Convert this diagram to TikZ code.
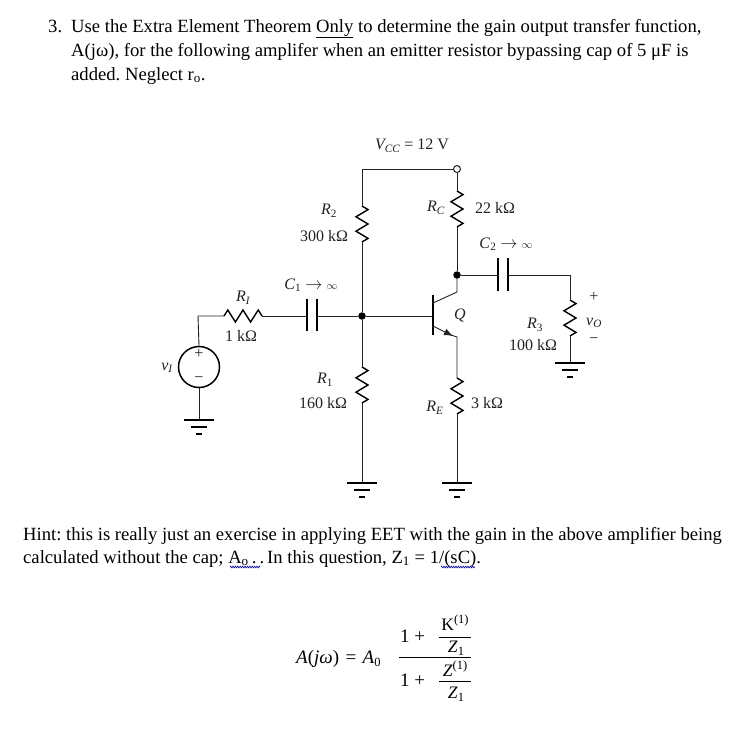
\documentclass[tikz,border=0pt]{standalone}
\usepackage{fontspec}
\setmainfont{Liberation Serif}
\frenchspacing
\usetikzlibrary{decorations.pathmorphing,arrows.meta}
\definecolor{ink}{HTML}{222222}
\newcommand{\eqsup}[1]{\raisebox{0.36em}{\fontsize{12.5}{13}\selectfont #1}}
\newcommand{\eqsub}[1]{\raisebox{-0.18em}{\fontsize{12.5}{13}\selectfont #1}}
\tikzset{
  wire/.style={line width=0.9pt,draw=ink},
  zig/.style={line width=1.4pt,draw=black,line join=miter},
  plate/.style={line width=2.4pt,draw=black},
  dot/.style={circle,fill=black,inner sep=0pt,minimum size=7.5pt},
  para/.style={anchor=base west,inner sep=0pt,font=\fontsize{18.65}{20}\selectfont},
  lab/.style={inner sep=0pt,text=ink,font=\fontsize{16}{18}\selectfont},
  eqn/.style={inner sep=0pt,font=\fontsize{19}{21}\selectfont},
  eqs/.style={inner sep=0pt,anchor=base,font=\fontsize{17.5}{19}\selectfont},
  squig/.style={draw=blue!60!black,line width=0.6pt,decorate,decoration={zigzag,segment length=2.4pt,amplitude=0.9pt}},
  gnd/.pic={
    \draw[line width=2pt] (-15,0) -- (15,0);
    \draw[line width=2pt] (-8,7) -- (8,7);
    \draw[line width=2pt] (-3,14) -- (3,14);
    \coordinate (-top) at (0,0);
  },
  vres/.pic={
    \draw[zig] (0,0) -- ++(6,3.6) -- ++(-12,7.2) -- ++(12,7.2) -- ++(-12,7.2) -- ++(12,7.2) -- ++(-6,3.6);
    \coordinate (-top) at (0,0);
    \coordinate (-bot) at (0,36);
  },
  hres/.pic={
    \draw[zig] (0,0) -- ++(3.8,-6) -- ++(7.6,12) -- ++(7.6,-12) -- ++(7.6,12) -- ++(7.6,-12) -- ++(3.8,6);
    \coordinate (-left) at (0,0);
    \coordinate (-right) at (38,0);
  }
}
\begin{document}
\begin{tikzpicture}[x=1pt,y=-1pt]
\useasboundingbox (0,0) rectangle (752,729);
\fill[white] (0,0) rectangle (752,729);

% problem statement
\node[para] (num) at (48,32) {3.};
\node[para] (l1) at (71,32) {Use the Extra Element Theorem \underline{Only} to determine the gain output transfer function,};
\node[para] (l2) at (71,56) {A(jω), for the following amplifer when an emitter resistor bypassing cap of 5 μF is};
\node[para] (l3) at (71,80) {added. Neglect r\textsubscript{o}.};

% circuit junctions and terminals
\node[dot] (nb) at (362,316) {};
\node[dot] (nc) at (457,275) {};
\node[circle,draw=ink,line width=1pt,fill=white,inner sep=0pt,minimum size=7pt] (vcc) at (457,169) {};
\node[circle,draw=black,line width=1.5pt,inner sep=0pt,minimum size=41pt] (src) at (199,367) {};
\coordinate (ctl) at (362,169);
\coordinate (sl) at (198,316);
\coordinate (c1a) at (307,316);
\coordinate (c1b) at (317,316);
\coordinate (c2a) at (498,275);
\coordinate (c2b) at (508,275);
\coordinate (otr) at (570,275);
\coordinate (base) at (433,316);
\coordinate (ctop) at (433,303);
\coordinate (cknee) at (457,292);
\coordinate (etop) at (433,326);
\coordinate (eknee) at (457,337);

% components
\path (224,316) pic (ri) {hres};
\path (362,206) pic (r2) {vres};
\path (362,367) pic (r1) {vres};
\path (457,191) pic (rc) {vres};
\path (457,378) pic (re) {vres};
\path (570,300) pic (r3) {vres};
\path (199,420) pic (g1) {gnd};
\path (362,483) pic (g2) {gnd};
\path (457,483) pic (g3) {gnd};
\path (570,363) pic (g4) {gnd};

% capacitors and transistor bar
\draw[plate] (307,299) -- (307,331);
\draw[plate] (317,299) -- (317,331);
\draw[plate] (498,258) -- (498,291);
\draw[plate] (508,258) -- (508,291);
\draw[plate] (433,295) -- (433,335);

% wiring
\draw[wire] (vcc) -- (ctl) -- (r2-top);
\draw[wire] (r2-bot) -- (nb);
\draw[wire] (nb) -- (r1-top);
\draw[wire] (r1-bot) -- (g2-top);
\draw[wire] (src.north) -- (sl) -- (ri-left);
\draw[wire] (ri-right) -- (c1a);
\draw[wire] (c1b) -- (nb);
\draw[wire] (nb) -- (base);
\draw[wire] (src.south) -- (g1-top);
\draw[wire] (vcc) -- (rc-top);
\draw[wire] (rc-bot) -- (nc);
\draw[wire] (nc) -- (cknee) -- (ctop);
\draw[wire,-{Latex[length=9pt,width=7pt]}] (etop) -- (453,336);
\draw[wire] (451,335) -- (eknee) -- (re-top);
\draw[wire] (re-bot) -- (g3-top);
\draw[wire] (nc) -- (c2a);
\draw[wire] (c2b) -- (otr) -- (r3-top);
\draw[wire] (r3-bot) -- (g4-top);

% source signs
\node[lab] (sp) at (199,354) {+};
\node[lab] (sm) at (199,380) {−};

% circuit labels
\node[lab] (lvcc) at (412,146) {\textit{V\textsubscript{CC}} = 12 V};
\node[lab] (lr2) at (329,211) {\textit{R}\textsubscript{2}};
\node[lab] (lr2v) at (324,236) {300 kΩ};
\node[lab] (lrc) at (436,208) {\textit{R\textsubscript{C}}};
\node[lab] (lrcv) at (495,208) {22 kΩ};
\node[lab] (lc2) at (506,244) {\textit{C}\textsubscript{2} $\rightarrow$ $\scriptstyle\infty$};
\node[lab] (lc1) at (311,285) {\textit{C}\textsubscript{1} $\rightarrow$ $\scriptstyle\infty$};
\node[lab] (lri) at (243,298) {\textit{R\textsubscript{I}}};
\node[lab] (lriv) at (241,336) {1 kΩ};
\node[lab] (lq) at (460,315) {\textit{Q}};
\node[lab] (lr3) at (535,325) {\textit{R}\textsubscript{3}};
\node[lab] (lr3v) at (533,345) {100 kΩ};
\node[lab] (lp) at (594,297) {+};
\node[lab] (lvo) at (594,323) {\textit{v\textsubscript{O}}};
\node[lab] (lm) at (594,341) {−};
\node[lab] (lvi) at (167,368) {\textit{v\textsubscript{I}}};
\node[lab] (lr1) at (325,380) {\textit{R}\textsubscript{1}};
\node[lab] (lr1v) at (323,403) {160 kΩ};
\node[lab] (lre) at (435,408) {\textit{R\textsubscript{E}}};
\node[lab] (lrev) at (487,403) {3 kΩ};

% hint
\node[para] (h1) at (23,540) {Hint: this is really just an exercise in applying EET with the gain in the above amplifier being};
\node[para] (h2) at (23,563) {calculated without the cap; A\textsubscript{o}\,.\,.};
\node[para] (h3) at (267,563) {In this question, Z\textsubscript{1} = 1/(sC).};
\draw[squig] (230,567) -- (260,567);
\draw[squig] (441,567) -- (475,567);

% formula
\node[eqn,anchor=base west] (aj) at (296,663) {\textit{A}(\textit{jω})\,\,=\,\,\textit{A}\eqsub{0}};
\node[eqn,anchor=base west] (one1) at (400,642) {1 +};
\node[eqn,anchor=base west] (one2) at (400,686) {1 +};
\node[eqs] (k1) at (455,630) {K\eqsup{(1)}};
\node[eqs] (z1) at (456,652) {\textit{Z}\eqsub{1}};
\node[eqs] (k2) at (455,676) {\textit{Z}\eqsup{(1)}};
\node[eqs] (z2) at (456,698) {\textit{Z}\eqsub{1}};
\coordinate (f1) at (399,657);
\coordinate (f2) at (471,657);
\coordinate (f3) at (439,637);
\coordinate (f4) at (471,637);
\coordinate (f5) at (439,681);
\coordinate (f6) at (471,681);
\draw[line width=0.9pt] (f1) -- (f2);
\draw[line width=0.9pt] (f3) -- (f4);
\draw[line width=0.9pt] (f5) -- (f6);
\end{tikzpicture}
\end{document}
